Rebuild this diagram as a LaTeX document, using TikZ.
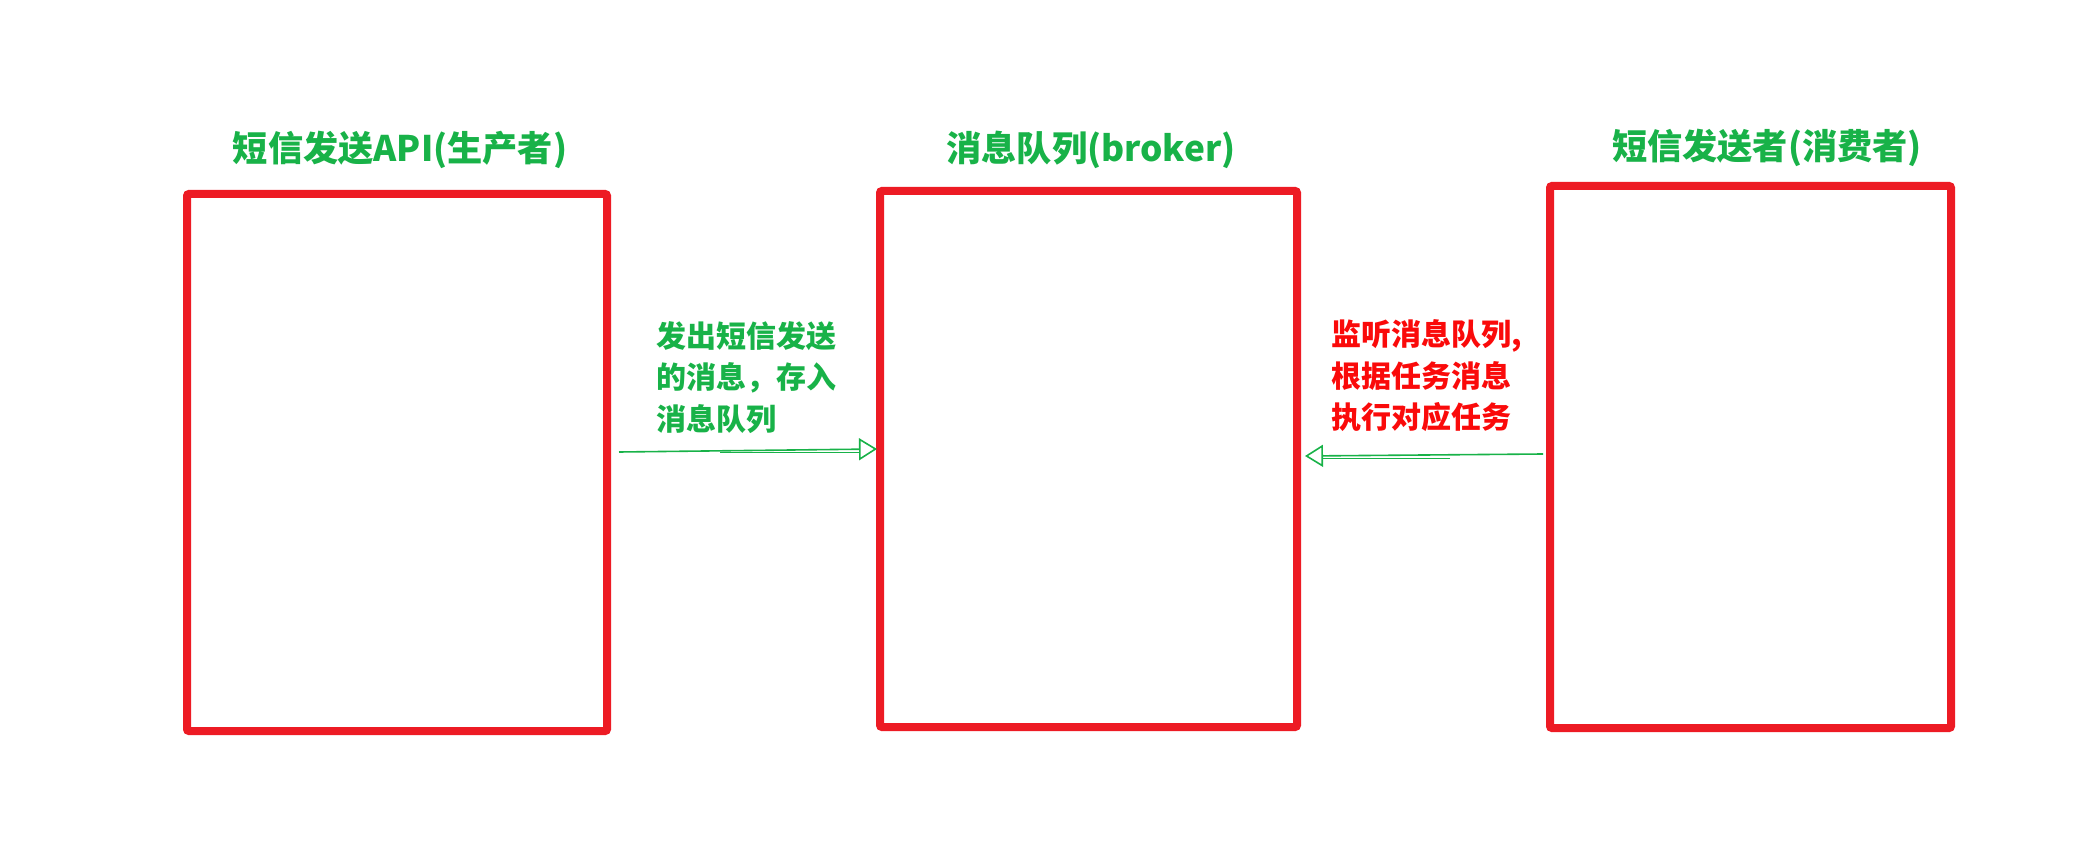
\documentclass[tikz,border=0pt]{standalone}
\usepackage{fontspec}
\newfontfamily\cjk{Noto Sans CJK SC}
\usetikzlibrary{arrows.meta}
\definecolor{tgreen}{RGB}{24,178,72}
\definecolor{bred}{RGB}{237,27,36}
\definecolor{tred}{RGB}{250,10,10}
\tikzset{
  box/.style={draw=bred, line width=4pt, rounded corners=1pt, inner sep=0pt},
  title/.style={text=tgreen, font=\cjk\bfseries\fontsize{17.6pt}{22pt}\selectfont, inner sep=0pt},
  glabel/.style={text=tgreen, font=\cjk\bfseries\fontsize{15pt}{20.75pt}\selectfont, align=left, anchor=west, inner sep=0pt},
  rlabel/.style={text=tred, font=\cjk\bfseries\fontsize{15pt}{20.75pt}\selectfont, align=left, anchor=west, inner sep=0pt},
  arr/.style={draw=tgreen, line width=0.8pt},
  arrh/.style={draw=tgreen, line width=0.8pt, -{Triangle[open, length=9pt, width=11pt, line width=0.8pt]}},
}
\begin{document}
\begin{tikzpicture}[x=0.5pt,y=-0.5pt]
\useasboundingbox (0,0) rectangle (2094,850);
\node[box, minimum width=210pt, minimum height=268.5pt] (b1) at (397,462.5) {};
\node[box, minimum width=208.5pt, minimum height=268pt] (b2) at (1088.5,459) {};
\node[box, minimum width=200.5pt, minimum height=271pt] (b3) at (1750.5,457) {};
\node[title] (t1) at (400,150) {短信发送API(生产者)};
\node[title] (t2) at (1091,150) {消息队列(broker)};
\node[title] (t3) at (1767,148) {短信发送者(消费者)};
\node[glabel] (l1) at (656,377.5) {发出短信发送\\的消息，存入\\消息队列};
\node[rlabel] (l2) at (1331,376) {监听消息队列,\\根据任务消息\\执行对应任务};
\coordinate (a1s) at (619,452);
\coordinate (a1m) at (720,452.5);
\coordinate (a1b) at (859,452.5);
\coordinate (a1e) at (877,449);
\coordinate (a2s) at (1543,454);
\coordinate (a2m) at (1450,458.5);
\coordinate (a2b) at (1323,458.5);
\coordinate (a2e) at (1305,456);
\draw[arrh] (a1s) -- (a1e);
\draw[arr] (a1m) -- (a1b);
\draw[arrh] (a2s) -- (a2e);
\draw[arr] (a2m) -- (a2b);
\end{tikzpicture}
\end{document}
